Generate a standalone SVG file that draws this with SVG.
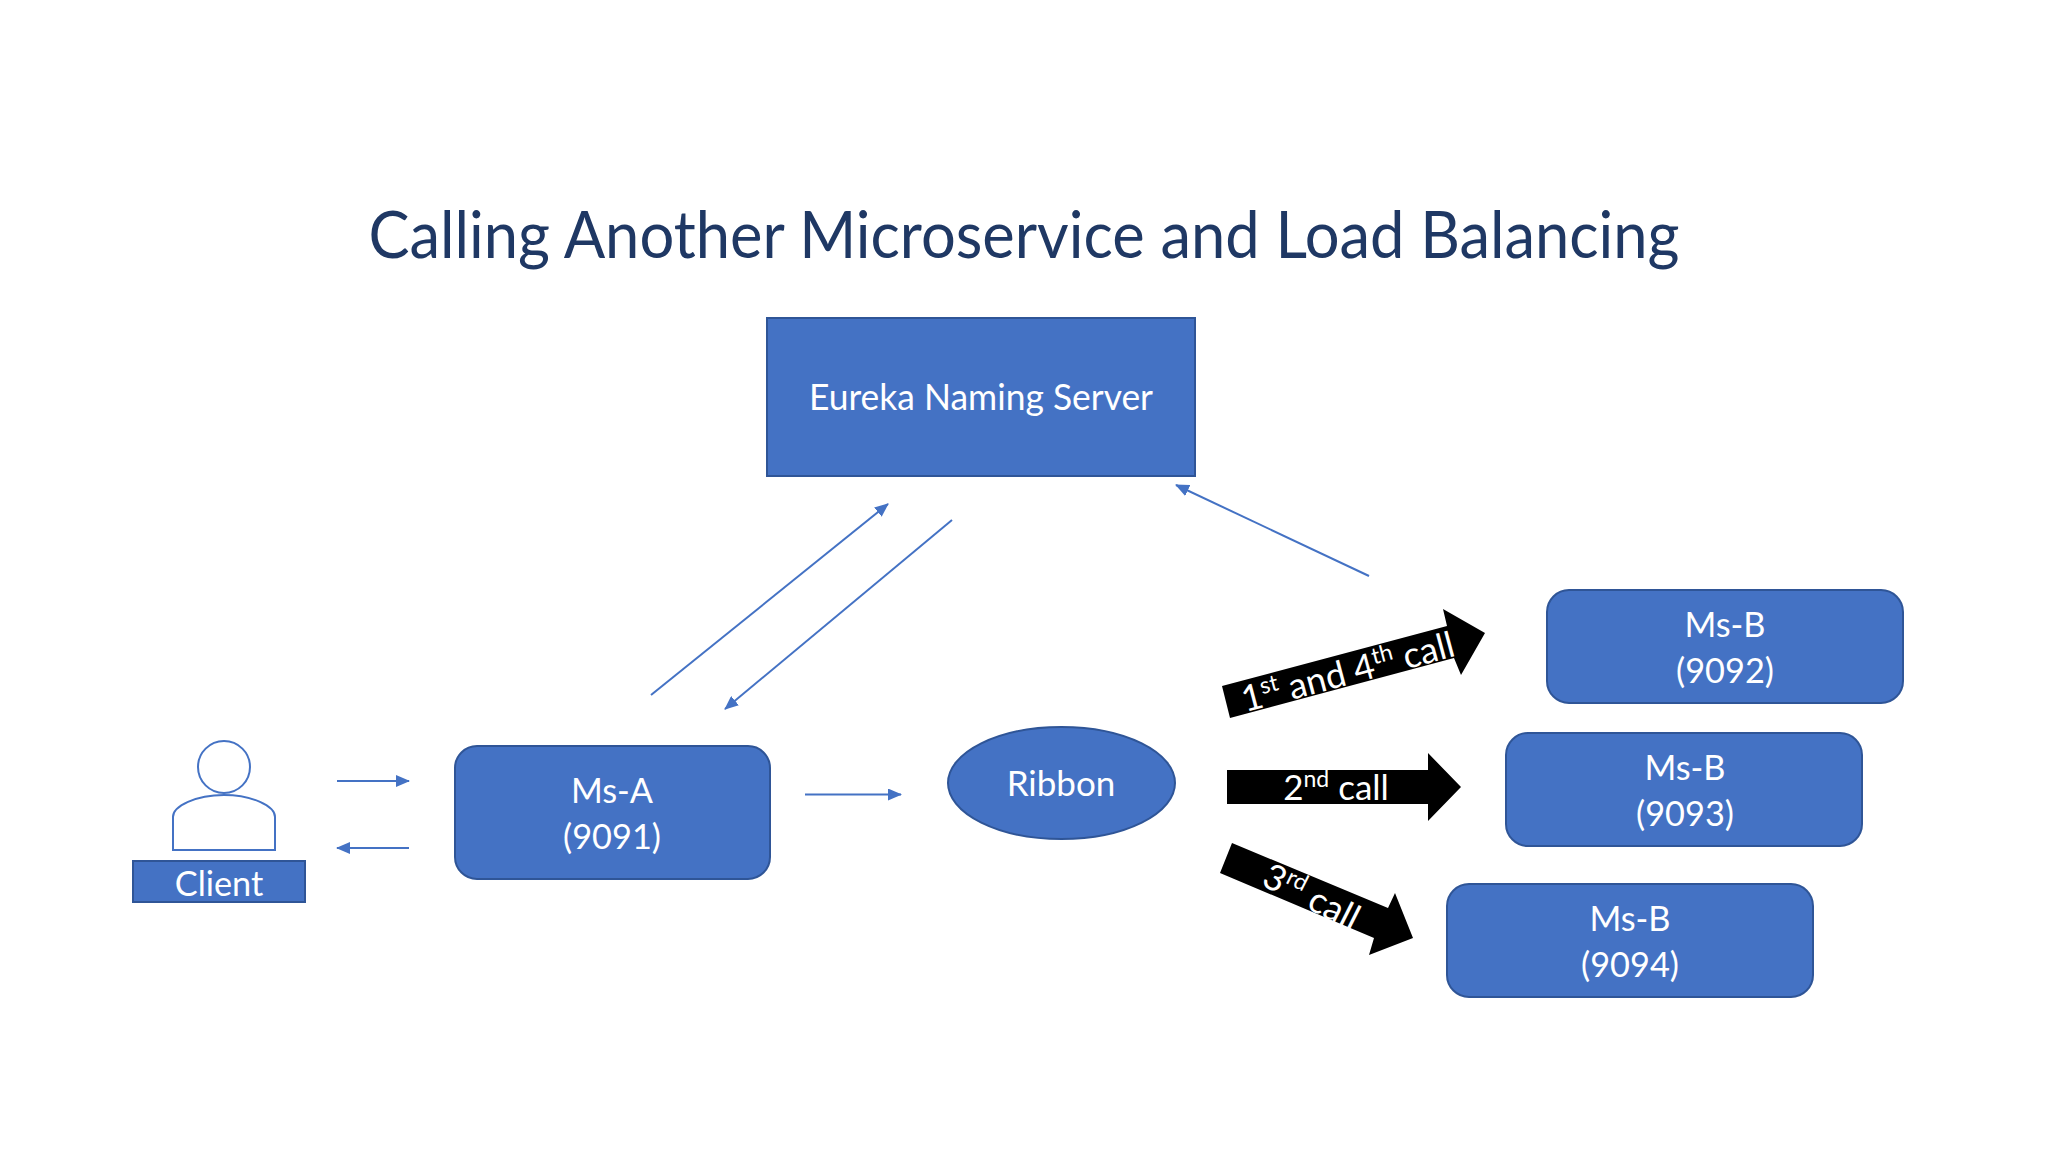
<svg xmlns="http://www.w3.org/2000/svg" width="2048" height="1152" viewBox="0 0 2048 1152">
<style>
.n{fill:#4472c4;stroke:#2f5597;stroke-width:2}
.t{fill:#fff;font-family:"Lato","Carlito","Open Sans",sans-serif;font-size:34.3px;text-anchor:middle}
.w{fill:#fff;font-family:"Lato","Carlito","Open Sans",sans-serif;font-size:36px;text-anchor:middle}
.s{font-size:23px}
.c{fill:none;stroke:#4472c4;stroke-width:2;marker-end:url(#a)}
.b{fill:#000}
</style>
<defs><marker id="a" markerUnits="userSpaceOnUse" markerWidth="14" markerHeight="12" refX="13" refY="6" orient="auto"><path d="M0 0L14 6L0 12Z" fill="#4472c4"/></marker></defs>
<rect width="2048" height="1152" fill="#fff"/>
<text id="title" x="1024" y="258" fill="#1f3864" font-family="Lato,Carlito,sans-serif" font-size="65" text-anchor="middle" textLength="1311" lengthAdjust="spacingAndGlyphs">Calling Another Microservice and Load Balancing</text>
<g id="connectors">
<line class="c" x1="651" y1="695" x2="888" y2="504"/>
<line class="c" x1="952" y1="520" x2="725" y2="709"/>
<line class="c" x1="1369" y1="576" x2="1176" y2="485"/>
<line class="c" x1="337" y1="781" x2="409" y2="781"/>
<line class="c" x1="409" y1="848" x2="337" y2="848"/>
<line class="c" x1="805" y1="794.500" x2="901" y2="794.500"/>
</g>
<g id="eureka"><rect class="n" x="767" y="318" width="428" height="158"/><text class="t" x="981" y="410" textLength="344" lengthAdjust="spacingAndGlyphs" style="font-size:36px">Eureka Naming Server</text></g>
<g id="client">
<circle cx="224" cy="767" r="26" fill="#fff" stroke="#4472c4" stroke-width="2"/>
<path d="M173 850V817C173 806 196 795 224 795C252 795 275 806 275 817V850Z" fill="#fff" stroke="#4472c4" stroke-width="2"/>
<rect class="n" x="133" y="861" width="172" height="41"/><text class="t" x="219" y="896">Client</text></g>
<g id="ms-a"><rect class="n" x="455" y="746" width="315" height="133" rx="22"/><text class="t" x="612" y="803">Ms-A</text><text class="t" x="612" y="849">(9091)</text></g>
<g id="ribbon"><ellipse class="n" cx="1061.500" cy="783" rx="113.500" ry="56"/><text class="t" x="1061" y="796" style="font-size:35px">Ribbon</text></g>
<g id="ms-b-9092"><rect class="n" x="1547" y="590" width="356" height="113" rx="22"/><text class="t" x="1725" y="637">Ms-B</text><text class="t" x="1725" y="683">(9092)</text></g>
<g id="ms-b-9093"><rect class="n" x="1506" y="733" width="356" height="113" rx="22"/><text class="t" x="1685" y="780">Ms-B</text><text class="t" x="1685" y="826">(9093)</text></g>
<g id="ms-b-9094"><rect class="n" x="1447" y="884" width="366" height="113" rx="22"/><text class="t" x="1630" y="931">Ms-B</text><text class="t" x="1630" y="977">(9094)</text></g>
<g id="call-1"><path class="b" d="M1222 686L1447 626L1443 609L1485 633L1461 675L1454 658L1230 718Z"/><text class="w" transform="translate(1351 684) rotate(-15)">1<tspan class="s" dy="-13">st</tspan><tspan dy="13"> and 4</tspan><tspan class="s" dy="-13">th</tspan><tspan dy="13"> call</tspan></text></g>
<g id="call-2"><path class="b" d="M1227 770H1428V753L1461 787L1428 821V804H1227Z"/><text class="w" x="1336" y="800" style="font-size:35px">2<tspan class="s" dy="-13">nd</tspan><tspan dy="13"> call</tspan></text></g>
<g id="call-3"><path class="b" d="M1232 843L1388 908L1395 893L1413 938L1369 955L1374 938L1220 873Z"/><text class="w" transform="translate(1306 908) rotate(27)">3<tspan class="s" dy="-13">rd</tspan><tspan dy="13"> call</tspan></text></g>
</svg>
